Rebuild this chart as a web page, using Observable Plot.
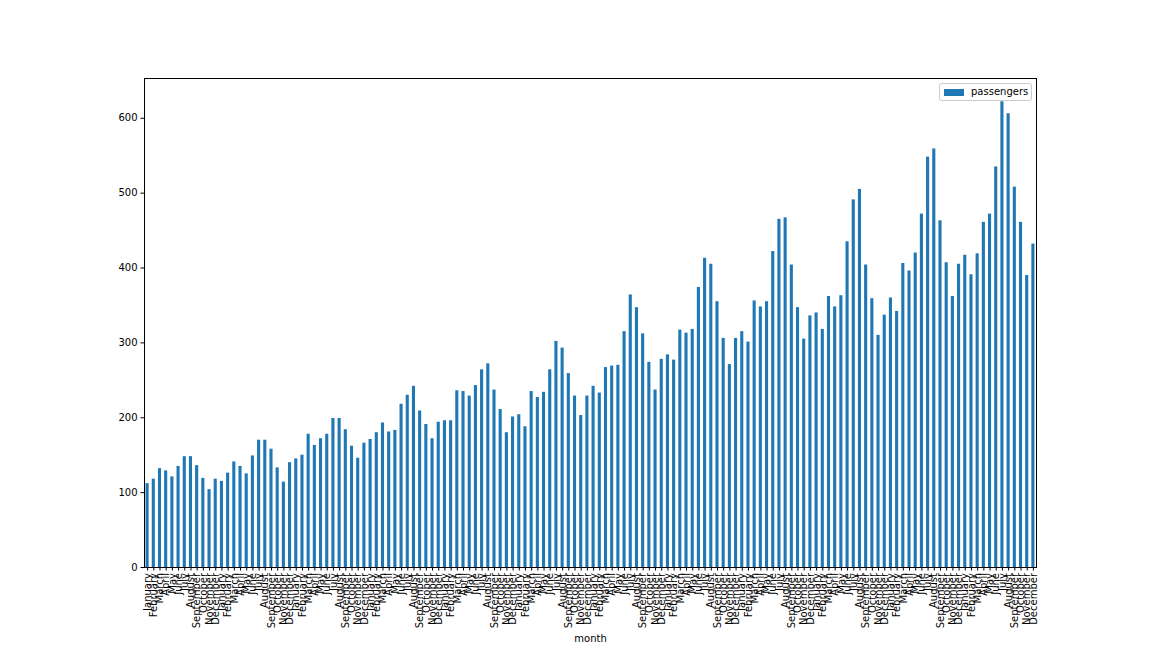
<!DOCTYPE html>
<html><head>
<meta charset="utf-8">
<script src="https://cdn.jsdelivr.net/npm/d3@7"></script>
<script src="https://cdn.jsdelivr.net/npm/@observablehq/plot@0.6"></script>
<style>
body{margin:0;background:#fff;font-family:"DejaVu Sans",sans-serif}
#wrap{position:relative;width:1152px;height:648px}
#legend{position:absolute;left:939px;top:83px;width:93px;height:18px;border:1px solid #ccc;border-radius:3px;background:rgba(255,255,255,0.8);font-size:10px;color:#000;box-sizing:border-box}
#legend .sw{position:absolute;left:4px;top:5px;width:20px;height:7px;background:#1f77b4}
#legend .lb{position:absolute;left:31px;top:1px;line-height:14px}
</style></head><body>
<div id="wrap"><div id="legend"><div class="sw"></div><div class="lb">passengers</div></div></div>
<script>
const monthNames = ["January","February","March","April","May","June","July","August","September","October","November","December"];
const years = [1949,1950,1951,1952,1953,1954,1955,1956,1957,1958,1959,1960];
const y1949 = [112,118,132,129,121,135,148,148,136,119,104,118];
const y1950 = [115,126,141,135,125,149,170,170,158,133,114,140];
const y1951 = [145,150,178,163,172,178,199,199,184,162,146,166];
const y1952 = [171,180,193,181,183,218,230,242,209,191,172,194];
const y1953 = [196,196,236,235,229,243,264,272,237,211,180,201];
const y1954 = [204,188,235,227,234,264,302,293,259,229,203,229];
const y1955 = [242,233,267,269,270,315,364,347,312,274,237,278];
const y1956 = [284,277,317,313,318,374,413,405,355,306,271,306];
const y1957 = [315,301,356,348,355,422,465,467,404,347,305,336];
const y1958 = [340,318,362,348,363,435,491,505,404,359,310,337];
const y1959 = [360,342,406,396,420,472,548,559,463,407,362,405];
const y1960 = [417,391,419,461,472,535,622,606,508,461,390,432];
const yearValues = [y1949,y1950,y1951,y1952,y1953,y1954,y1955,y1956,y1957,y1958,y1959,y1960];
const yTicks = [0,100,200,300,400,500,600];

const data = [];
yearValues.forEach((vals, i) => vals.forEach((v, m) => data.push({idx: i*12+m, month: monthNames[m], year: years[i], passengers: v})));

const chart = Plot.plot({
  width: 1152, height: 648,
  marginLeft: 144, marginRight: 116, marginTop: 78, marginBottom: 81,
  style: {fontFamily: "DejaVu Sans", fontSize: "10px", color: "#000", background: "#fff"},
  x: {type: "band", domain: data.map(d => d.idx), paddingInner: 0.5, paddingOuter: 0.25, round: false},
  y: {domain: [0, 653.1]},
  marks: [
    Plot.barY(data, {x: "idx", y: "passengers", fill: "#1f77b4"}),
    Plot.frame({stroke: "#000"}),
    Plot.axisX({tickFormat: i => monthNames[i % 12], tickRotate: -90, tickSize: 3.5, tickPadding: 2, label: "month", labelAnchor: "center", labelArrow: false, labelOffset: 74}),
    Plot.axisY({ticks: yTicks, tickSize: 3.5, tickPadding: 3.5, label: null})
  ]
});
document.getElementById("wrap").prepend(chart);
</script>
</body></html>
